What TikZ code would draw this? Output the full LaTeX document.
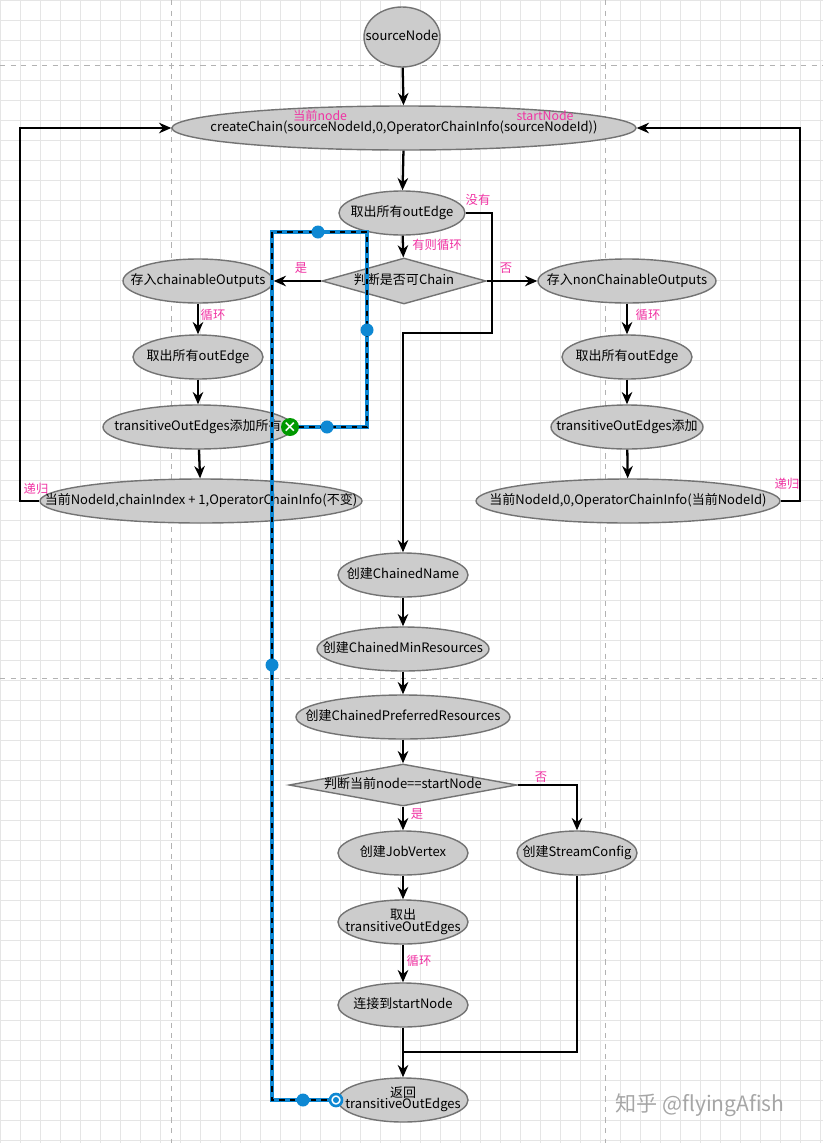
\documentclass[tikz,border=0pt]{standalone}
\usepackage{fontspec}
\setmainfont{Noto Sans CJK SC}
\usetikzlibrary{shapes.geometric,arrows.meta}
\tikzset{>={Stealth[length=7pt,width=6pt]}}
\colorlet{fillgray}{black!20}
\colorlet{labpink}{magenta!80!white}
\colorlet{handle}{cyan!70!blue}
\tikzstyle{oval}=[ellipse,draw=black!55,thick,fill=fillgray,inner sep=0pt,minimum height=44*0.02cm]
\tikzstyle{dec}=[diamond,draw=black!55,thick,fill=fillgray,inner sep=0pt]
\tikzstyle{flow}=[->,line width=1.3pt]
\tikzstyle{lab}=[labpink,font=\fontsize{7}{8}\selectfont]
\tikzset{ow/.style={minimum width=#1*0.02cm}}
\newcommand\oc[1]{\makebox[0pt]{\begin{tabular}{@{}c@{}}#1\end{tabular}}}

\begin{document}
\begin{tikzpicture}[x=0.02cm,y=-0.02cm,font=\fontsize{7.4}{8.7}\selectfont]
      \useasboundingbox (0,0) rectangle (823,1143);

      % GRID
      \foreach \g in {0,20,...,820} \draw[black!10] (\g,0) -- (\g,1143);
      \foreach \g in {0,20,...,1140} \draw[black!10] (0,\g) -- (823,\g);
      \draw[black!30,dashed] (0,65) -- (823,65) (0,678) -- (823,678)
        (171,0) -- (171,1143) (605,0) -- (605,1143);

      % NODES
      \node[oval,ow=76,minimum height=60*0.02cm] (src) at (402,37) {\oc{sourceNode}};
      \node[oval,ow=464] (chain) at (404,128) {\oc{createChain(sourceNodeId,0,OperatorChainInfo(sourceNodeId))}};
      \node[oval,ow=126] (out) at (402,213) {\oc{取出所有outEdge}};
      \node[dec,minimum width=164*0.02cm,minimum height=46*0.02cm] (can) at (404,281) {\oc{判断是否可Chain}};
      \node[oval,ow=150] (lsave) at (198,281) {\oc{存入chainableOutputs}};
      \node[oval,ow=130] (lout) at (198,357) {\oc{取出所有outEdge}};
      \node[oval,ow=190] (ladd) at (198,427) {\oc{transitiveOutEdges添加所有}};
      \node[oval,ow=322] (lrec) at (201,501) {\oc{当前NodeId,chainIndex + 1,OperatorChainInfo(不变)}};
      \node[oval,ow=178] (rsave) at (627,281) {\oc{存入nonChainableOutputs}};
      \node[oval,ow=130] (rout) at (627,357) {\oc{取出所有outEdge}};
      \node[oval,ow=152] (radd) at (627,427) {\oc{transitiveOutEdges添加}};
      \node[oval,ow=304] (rrec) at (628,501) {\oc{当前NodeId,0,OperatorChainInfo(当前NodeId)}};
      \node[oval,ow=130] (name) at (403,575) {\oc{创建ChainedName}};
      \node[oval,ow=172] (minres) at (403,649) {\oc{创建ChainedMinResources}};
      \node[oval,ow=214] (prefres) at (403,717) {\oc{创建ChainedPreferredResources}};
      \node[dec,minimum width=228*0.02cm,minimum height=42*0.02cm] (start) at (403,785) {\oc{判断当前node==startNode}};
      \node[oval,ow=130] (vertex) at (403,853) {\oc{创建JobVertex}};
      \node[oval,ow=120] (config) at (577,853) {\oc{创建StreamConfig}};
      \node[oval,ow=130] (take) at (403,922) {\oc{取出\\[-2pt]transitiveOutEdges}};
      \node[oval,ow=130] (connect) at (403,1005) {\oc{连接到startNode}};
      \node[oval,ow=130] (ret) at (403,1100) {\oc{返回\\[-2pt]transitiveOutEdges}};

      % CONNECTORS
      \draw[flow] (src) -- (chain);
      \draw[flow] (chain) -- (out);
      \draw[flow] (out) -- (can);
      \draw[flow] (can) -- (lsave);
      \draw[flow] (can) -- (rsave);
      \draw[flow] (lsave) -- (lout);
      \draw[flow] (lout) -- (ladd);
      \draw[flow] (ladd) -- (lrec);
      \draw[flow] (rsave) -- (rout);
      \draw[flow] (rout) -- (radd);
      \draw[flow] (radd) -- (rrec);
      \draw[flow] (lrec.west) -| (20,128) -- (chain.west);
      \draw[flow] (rrec.east) -| (800,128) -- (chain.east);
      \draw[flow] (out.east) -| (492,333) -| (name.north);
      \draw[flow] (name) -- (minres);
      \draw[flow] (minres) -- (prefres);
      \draw[flow] (prefres) -- (start);
      \draw[flow] (start) -- (vertex);
      \draw[flow] (start.east) -| (config.north);
      \draw[flow] (vertex) -- (take);
      \draw[flow] (take) -- (connect);
      \draw[flow] (connect) -- (ret);
      \draw[line width=1.3pt] (config.south) |- (403,1052);

      % DRAGGED LINK
      \draw[handle,line width=2.2pt] (ret.west) -| (272,232) -| (367,427) -- (ladd.east);
      \draw[black,thick,dashed] (ret.west) -| (272,232) -| (367,427) -- (ladd.east);
      \foreach \p in {(318,232),(367,330),(327,427),(272,665),(303,1100)}
        \fill[handle] \p circle (6.5);
      \draw[handle,line width=1.5pt,fill=white] (336,1100) circle (6);
      \fill[handle] (336,1100) circle (3);
      \fill[green!60!black] (290,427) circle (9);
      \node[white,font=\bfseries\fontsize{8}{8}\selectfont] (cross) at (290,427) {×};

      % LABELS
      \node[lab] (l1) at (320,116) {当前node};
      \node[lab] (l2) at (545,116) {startNode};
      \node[lab] (l3) at (478,200) {没有};
      \node[lab] (l4) at (437,245) {有则循环};
      \node[lab] (l5) at (301,268) {是};
      \node[lab] (l6) at (506,268) {否};
      \node[lab] (l7) at (213,315) {循环};
      \node[lab] (l8) at (648,315) {循环};
      \node[lab] (l9) at (36,489) {递归};
      \node[lab] (l10) at (787,484) {递归};
      \node[lab] (l11) at (541,777) {否};
      \node[lab] (l12) at (417,814) {是};
      \node[lab] (l13) at (419,961) {循环};
      \node[black!35,font=\fontsize{12}{12}\selectfont] (mark) at (700,1105) {知乎 @flyingAfish};
\end{tikzpicture}
\end{document}
